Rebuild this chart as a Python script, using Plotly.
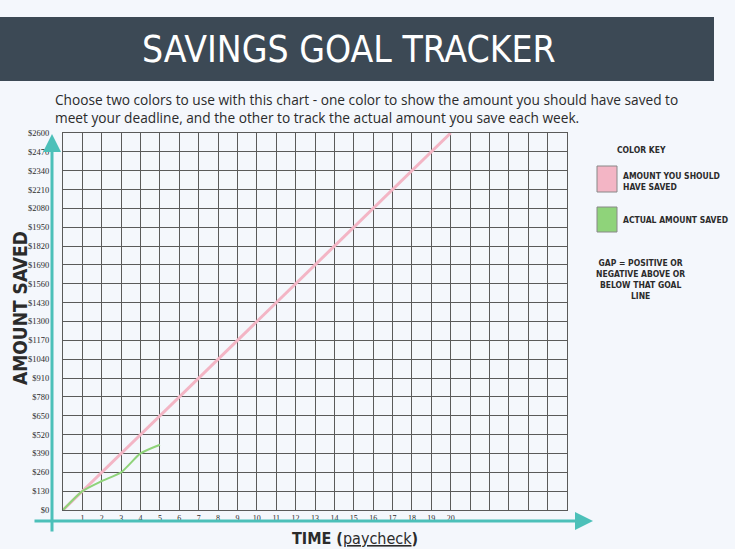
import plotly.graph_objects as go

# ==========================
# DATA
# ==========================
weeks_goal = [0, 1, 2, 3, 4, 5, 6, 7, 8, 9, 10, 11, 12, 13, 14, 15, 16, 17, 18, 19, 20]
goal_saved = [0, 130, 260, 390, 520, 650, 780, 910, 1040, 1170, 1300, 1430,
              1560, 1690, 1820, 1950, 2080, 2210, 2340, 2470, 2600]

weeks_actual = [0, 1, 2, 3, 4, 5]
actual_saved = [0, 130, 200, 260, 390, 450]

x_grid = list(range(0, 27))
x_labels = ["", "1", "2", "3", "4", "5", "6", "7", "8", "9", "10", "11", "12", "13",
            "14", "15", "16", "17", "18", "19", "20", "", "", "", "", "", ""]

y_grid = [0, 130, 260, 390, 520, 650, 780, 910, 1040, 1170, 1300, 1430,
          1560, 1690, 1820, 1950, 2080, 2210, 2340, 2470, 2600]
y_labels = ["$0", "$130", "$260", "$390", "$520", "$650", "$780", "$910", "$1040",
            "$1170", "$1300", "$1430", "$1560", "$1690", "$1820", "$1950", "$2080",
            "$2210", "$2340", "$2470", "$2600"]

PINK = "#f3b5c5"
GREEN = "#8fd37a"
TEAL = "#4cc0b9"
BANNER = "#3c4955"
INK = "#2b2b2b"
BG = "#f4f7fc"
NARROW = "DejaVu Sans Condensed, Liberation Sans Narrow, sans-serif"

# plot area in page pixels
L, R, T, B = 63, 567, 133, 510
W, H = 735, 549


def px(x):
    return (x - L) / (R - L)


def py(y):
    return (B - y) / (B - T)


def note(x, y, text, font, xanchor="center", yanchor="middle", align="center", **kw):
    d = dict(xref="paper", yref="paper", x=px(x), y=py(y), text=text,
             showarrow=False, font=font, xanchor=xanchor, yanchor=yanchor, align=align)
    d.update(kw)
    return d


fig = go.Figure()

fig.add_trace(go.Scatter(
    x=weeks_goal, y=goal_saved, mode="lines",
    line=dict(color=PINK, width=3),
    name="Amount you should have saved",
    hoverinfo="x+y"
))

fig.add_trace(go.Scatter(
    x=weeks_actual, y=actual_saved, mode="lines",
    line=dict(color=GREEN, width=2, shape="spline", smoothing=0.6),
    name="Actual amount saved",
    hoverinfo="x+y"
))

shapes = []
annotations = []

# title banner
shapes.append(dict(type="rect", xref="paper", yref="paper",
                   x0=px(0), x1=px(714), y0=py(81), y1=py(17),
                   fillcolor=BANNER, line=dict(width=0), layer="below"))
annotations.append(note(349, 50, "SAVINGS GOAL TRACKER",
                        dict(family=NARROW, size=37, color="white")))

# instructions
annotations.append(note(53, 108,
                        "Choose two colors to use with this chart - one color to show the amount you should have saved to"
                        "<br>meet your deadline, and the other to track the actual amount you save each week.",
                        dict(family="Open Sans, sans-serif", size=13.7, color=INK),
                        xanchor="left", align="left"))

# teal axes with arrows
annotations.append(dict(xref="paper", yref="paper", x=px(593), y=py(521),
                        ax=33 - 593, ay=0, text="", showarrow=True,
                        arrowhead=2, arrowsize=1.2, arrowwidth=3, arrowcolor=TEAL))
annotations.append(dict(xref="paper", yref="paper", x=px(52), y=py(134),
                        ax=0, ay=533 - 134, text="", showarrow=True,
                        arrowhead=2, arrowsize=1.2, arrowwidth=3, arrowcolor=TEAL))

# axis titles
annotations.append(note(20, 308, "<b>AMOUNT SAVED</b>",
                        dict(family=NARROW, size=19, color=INK), textangle=-90))
annotations.append(note(355, 538, "<b>TIME (</b><u>paycheck</u><b>)</b>",
                        dict(family=NARROW, size=16, color=INK)))

# colour key
KEY_FONT = dict(family=NARROW, size=8.5, color=INK)
annotations.append(note(641, 150, "<b>COLOR KEY</b>", KEY_FONT))
shapes.append(dict(type="rect", xref="paper", yref="paper",
                   x0=px(597), x1=px(617), y0=py(192), y1=py(166),
                   fillcolor=PINK, line=dict(color="#888", width=1)))
annotations.append(note(621, 181, "<b>AMOUNT YOU SHOULD<br>HAVE SAVED</b>", KEY_FONT,
                        xanchor="left", align="left"))
shapes.append(dict(type="rect", xref="paper", yref="paper",
                   x0=px(597), x1=px(617), y0=py(232), y1=py(207),
                   fillcolor=GREEN, line=dict(color="#888", width=1)))
annotations.append(note(621, 220, "<b>ACTUAL AMOUNT SAVED</b>", KEY_FONT,
                        xanchor="left", align="left"))
annotations.append(note(640, 279,
                        "<b>GAP = POSITIVE OR<br>NEGATIVE ABOVE OR<br>BELOW THAT GOAL<br>LINE</b>",
                        KEY_FONT))

fig.update_layout(
    width=W, height=H,
    margin=dict(l=L, r=W - R, t=T, b=H - B),
    paper_bgcolor=BG, plot_bgcolor=BG,
    showlegend=False,
    shapes=shapes,
    annotations=annotations,
    font=dict(family="Liberation Serif, serif", color=INK),
)

fig.update_xaxes(
    range=[0, 26], tickmode="array", tickvals=x_grid, ticktext=x_labels,
    showgrid=True, gridcolor="#5a5a5a", gridwidth=1,
    showline=True, mirror=True, linecolor="#5a5a5a", linewidth=1,
    zeroline=False, ticks="", tickfont=dict(size=8, color=INK),
    fixedrange=True
)
fig.update_yaxes(
    range=[0, 2600], tickmode="array", tickvals=y_grid, ticktext=y_labels,
    showgrid=True, gridcolor="#5a5a5a", gridwidth=1,
    showline=True, mirror=True, linecolor="#5a5a5a", linewidth=1,
    zeroline=False, ticks="outside", ticklen=11, tickcolor="rgba(0,0,0,0)",
    tickfont=dict(size=8.5, color=INK), fixedrange=True
)

fig.write_html("out.html", config={"displayModeBar": False},
               post_script="document.body.style.margin='0';")
